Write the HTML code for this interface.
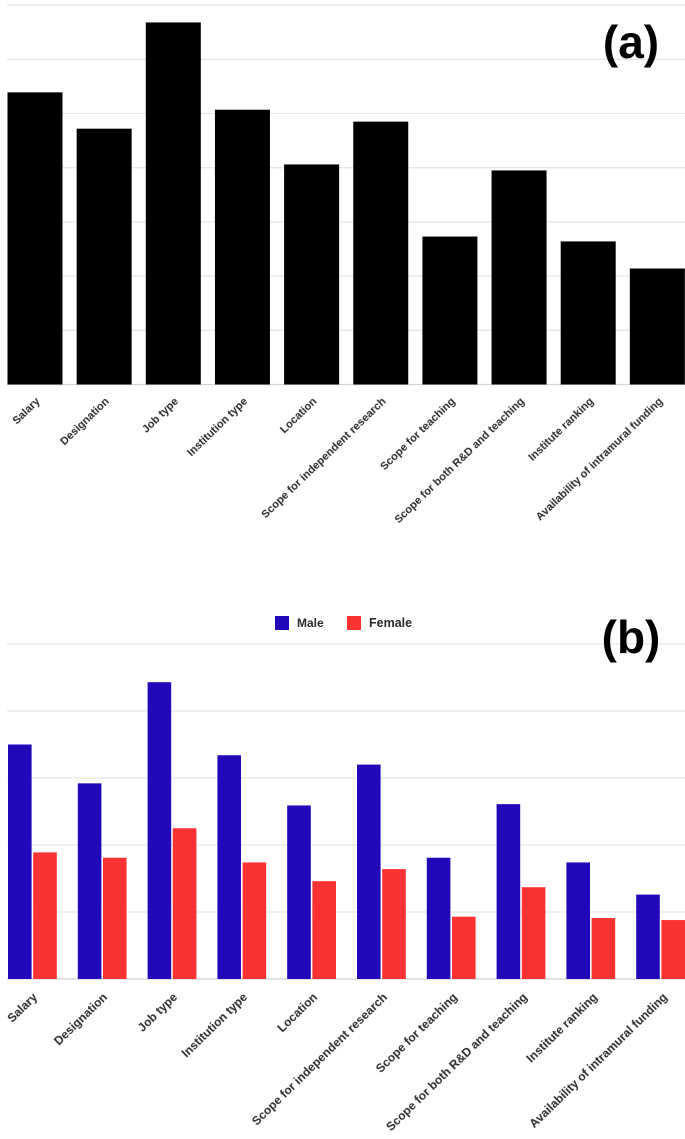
<!DOCTYPE html>
<html>
<head>
<meta charset="utf-8">
<title>Job factors charts</title>
<style>
html,body{margin:0;padding:0;background:#fff;}
svg{display:block;}
text{font-family:"Liberation Sans",sans-serif;}
.tick{font-weight:bold;fill:#2a2a2a;filter:blur(.35px);}
</style>
</head>
<body>
<svg id="root" width="685" height="1139" viewBox="0 0 685 1139" xmlns="http://www.w3.org/2000/svg"></svg>
<script>
const categories = ["Salary","Designation","Job type","Institution type","Location","Scope for independent research","Scope for teaching","Scope for both R&D and teaching","Institute ranking","Availability of intramural funding"];
const overallValues = [53.9,47.2,66.8,50.7,40.6,48.5,27.3,39.5,26.4,21.4];
const maleValues = [35.0,29.2,44.3,33.4,25.9,32.0,18.1,26.1,17.4,12.6];
const femaleValues = [18.9,18.1,22.5,17.4,14.6,16.4,9.3,13.7,9.1,8.8];
const overallTicks = [0,10,20,30,40,50,60,70];
const genderTicks = [0,10,20,30,40,50];

const svg = document.getElementById('root');
const NS = 'http://www.w3.org/2000/svg';
function add(tag, attrs, parent, text) {
  const el = document.createElementNS(NS, tag);
  for (const k in attrs) el.setAttribute(k, attrs[k]);
  if (text !== undefined) el.textContent = text;
  (parent || svg).appendChild(el);
  return el;
}
function kebab(s) {
  return s.toLowerCase().replace(/&/g, 'and').replace(/[^a-z0-9]+/g, '-');
}

// Axis functions
const yA = v => 384.5 - v * 5.42;
const xA = i => 7.5 + i * 69.15;
const yB = v => 979 - v * 6.7;
const xB = i => 8 + i * 69.8;

function drawGrid(ticks, y, name) {
  ticks.forEach(t => {
    const line = add('line', {x1: 7, x2: 685, y1: y(t), y2: y(t), stroke: t === 0 ? '#d4d4d4' : '#e6e6e6', 'stroke-width': 1.3});
    
    
  });
}
function drawLabels(anchorX, anchorY, angle, size, name) {
  categories.forEach((c, i) => {
    const t = add('text', {class: 'tick', 'font-size': size, 'text-anchor': 'end', transform: 'translate(' + anchorX(i) + ' ' + anchorY + ') rotate(' + angle + ')'}, svg, c);
    
    
  });
}

// Chart (a)
drawGrid(overallTicks, yA, 'chart-a');
overallValues.forEach((v, i) => {
  const r = add('rect', {x: xA(i), y: yA(v), width: 55, height: yA(0) - yA(v), fill: '#000'});
  
  
});
drawLabels(i => 40.5 + i * 69.2, 402, -44, 11, 'chart-a');

const labelA = add('text', {x: 631, y: 58, 'text-anchor': 'middle', 'font-size': 46, 'font-weight': 'bold', fill: '#000'}, svg, '(a)');



// Chart (b)
drawGrid(genderTicks, yB, 'chart-b');
maleValues.forEach((v, i) => {
  const r = add('rect', {x: xB(i), y: yB(v), width: 23.6, height: yB(0) - yB(v), fill: '#2108b8'});
  
  
});
femaleValues.forEach((v, i) => {
  const r = add('rect', {x: xB(i) + 25.2, y: yB(v), width: 23.6, height: yB(0) - yB(v), fill: '#fb3232'});
  
  
});
drawLabels(i => 38 + i * 70, 998, -44.3, 12, 'chart-b');

const labelB = add('text', {x: 631, y: 653, 'text-anchor': 'middle', 'font-size': 46, 'font-weight': 'bold', fill: '#000'}, svg, '(b)');



// Legend
const maleSwatch = add('rect', {x: 275, y: 616, width: 14, height: 14, fill: '#2108b8'});


const maleText = add('text', {x: 297, y: 627, 'font-size': 12, 'font-weight': 'bold', fill: '#2a2a2a'}, svg, 'Male');


const femaleSwatch = add('rect', {x: 347, y: 616, width: 14, height: 14, fill: '#fb3232'});


const femaleText = add('text', {x: 369, y: 627, 'font-size': 12.5, 'font-weight': 'bold', fill: '#2a2a2a'}, svg, 'Female');


</script>
</body>
</html>
